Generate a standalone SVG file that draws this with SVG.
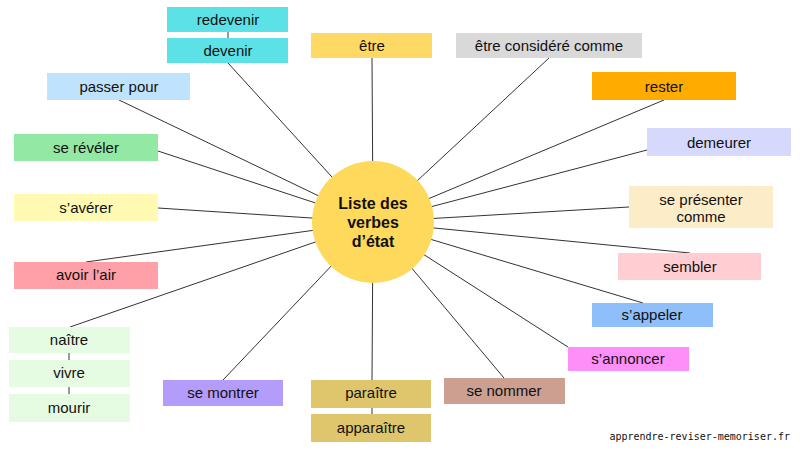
<svg xmlns="http://www.w3.org/2000/svg" width="800" height="450" viewBox="0 0 800 450">
<style>
text{font-family:"Liberation Sans",Arial,sans-serif;font-size:15px;fill:#111;text-anchor:middle;dominant-baseline:central}
.c line{stroke:#333;stroke-width:1}
.t{font-weight:bold;font-size:16px}
.w{font-family:"DejaVu Sans Mono","Liberation Mono",monospace;font-size:10px;text-anchor:end}
</style>
<rect width="800" height="450" fill="#fff"/>
<g class="c">
<line x1="373" y1="222" x2="228" y2="63"/>
<line x1="228" y1="32" x2="228" y2="38"/>
<line x1="373" y1="222" x2="372" y2="58"/>
<line x1="373" y1="222" x2="549" y2="58"/>
<line x1="373" y1="222" x2="119" y2="100"/>
<line x1="373" y1="222" x2="664" y2="100"/>
<line x1="373" y1="222" x2="158" y2="151"/>
<line x1="373" y1="222" x2="647" y2="150"/>
<line x1="373" y1="222" x2="158" y2="208"/>
<line x1="373" y1="222" x2="629" y2="207"/>
<line x1="373" y1="222" x2="86" y2="262"/>
<line x1="373" y1="222" x2="690" y2="253"/>
<line x1="373" y1="222" x2="643" y2="303"/>
<line x1="373" y1="222" x2="70" y2="327"/>
<line x1="69" y1="353" x2="69" y2="360"/>
<line x1="69" y1="387" x2="69" y2="394"/>
<line x1="373" y1="222" x2="223" y2="380"/>
<line x1="373" y1="222" x2="372" y2="380"/>
<line x1="372" y1="408" x2="372" y2="414"/>
<line x1="373" y1="222" x2="504" y2="378"/>
<line x1="373" y1="222" x2="568" y2="347"/>
</g>
<g id="center"><circle cx="373" cy="222" r="61" fill="#ffd95c"/>
<text class="t" x="373" y="203">Liste des</text><text class="t" x="373" y="222">verbes</text><text class="t" x="373" y="241">d’état</text></g>
<g id="redevenir"><rect x="167" y="7" width="121" height="25" fill="#5ce1e6"/><text x="228" y="19">redevenir</text></g>
<g id="devenir"><rect x="167" y="38" width="121" height="25" fill="#5ce1e6"/><text x="228" y="50">devenir</text></g>
<g id="etre"><rect x="311" y="33" width="121" height="25" fill="#ffd966"/><text x="372" y="45">être</text></g>
<g id="etre-considere"><rect x="456" y="33" width="186" height="25" fill="#d9d9d9"/><text x="549" y="45">être considéré comme</text></g>
<g id="passer-pour"><rect x="47" y="73" width="143" height="27" fill="#bfe3fc"/><text x="119" y="86">passer pour</text></g>
<g id="rester"><rect x="592" y="72" width="144" height="28" fill="#ffab00"/><text x="664" y="86">rester</text></g>
<g id="se-reveler"><rect x="14" y="134" width="144" height="27" fill="#93e9a4"/><text x="86" y="147">se révéler</text></g>
<g id="demeurer"><rect x="647" y="128" width="144" height="28" fill="#d6d9fb"/><text x="719" y="142">demeurer</text></g>
<g id="s-averer"><rect x="14" y="194" width="144" height="27" fill="#fff9b3"/><text x="86" y="207">s’avérer</text></g>
<g id="se-presenter"><rect x="629" y="186" width="144" height="42" fill="#fdecc8"/><text x="701" y="199">se présenter</text><text x="701" y="216">comme</text></g>
<g id="avoir-l-air"><rect x="14" y="262" width="144" height="27" fill="#ff9fa8"/><text x="86" y="274">avoir l’air</text></g>
<g id="sembler"><rect x="618" y="253" width="143" height="27" fill="#ffcdd2"/><text x="690" y="266">sembler</text></g>
<g id="s-appeler"><rect x="592" y="303" width="121" height="24" fill="#8fbffa"/><text x="652" y="314">s’appeler</text></g>
<g id="naitre"><rect x="9" y="327" width="121" height="26" fill="#e5fbe2"/><text x="69" y="339">naître</text></g>
<g id="vivre"><rect x="9" y="360" width="121" height="27" fill="#e5fbe2"/><text x="69" y="372">vivre</text></g>
<g id="mourir"><rect x="9" y="394" width="121" height="28" fill="#e5fbe2"/><text x="69" y="407">mourir</text></g>
<g id="se-montrer"><rect x="163" y="380" width="120" height="26" fill="#b49cfa"/><text x="223" y="392">se montrer</text></g>
<g id="paraitre"><rect x="311" y="380" width="120" height="28" fill="#dfc56c"/><text x="371" y="392">paraître</text></g>
<g id="apparaitre"><rect x="311" y="414" width="120" height="28" fill="#dfc56c"/><text x="371" y="427">apparaître</text></g>
<g id="se-nommer"><rect x="444" y="378" width="121" height="26" fill="#cba090"/><text x="504" y="390">se nommer</text></g>
<g id="s-annoncer"><rect x="568" y="347" width="121" height="24" fill="#fe8ef8"/><text x="628" y="358">s’annoncer</text></g>
<text class="w" x="790" y="436">apprendre-reviser-memoriser.fr</text>
</svg>
